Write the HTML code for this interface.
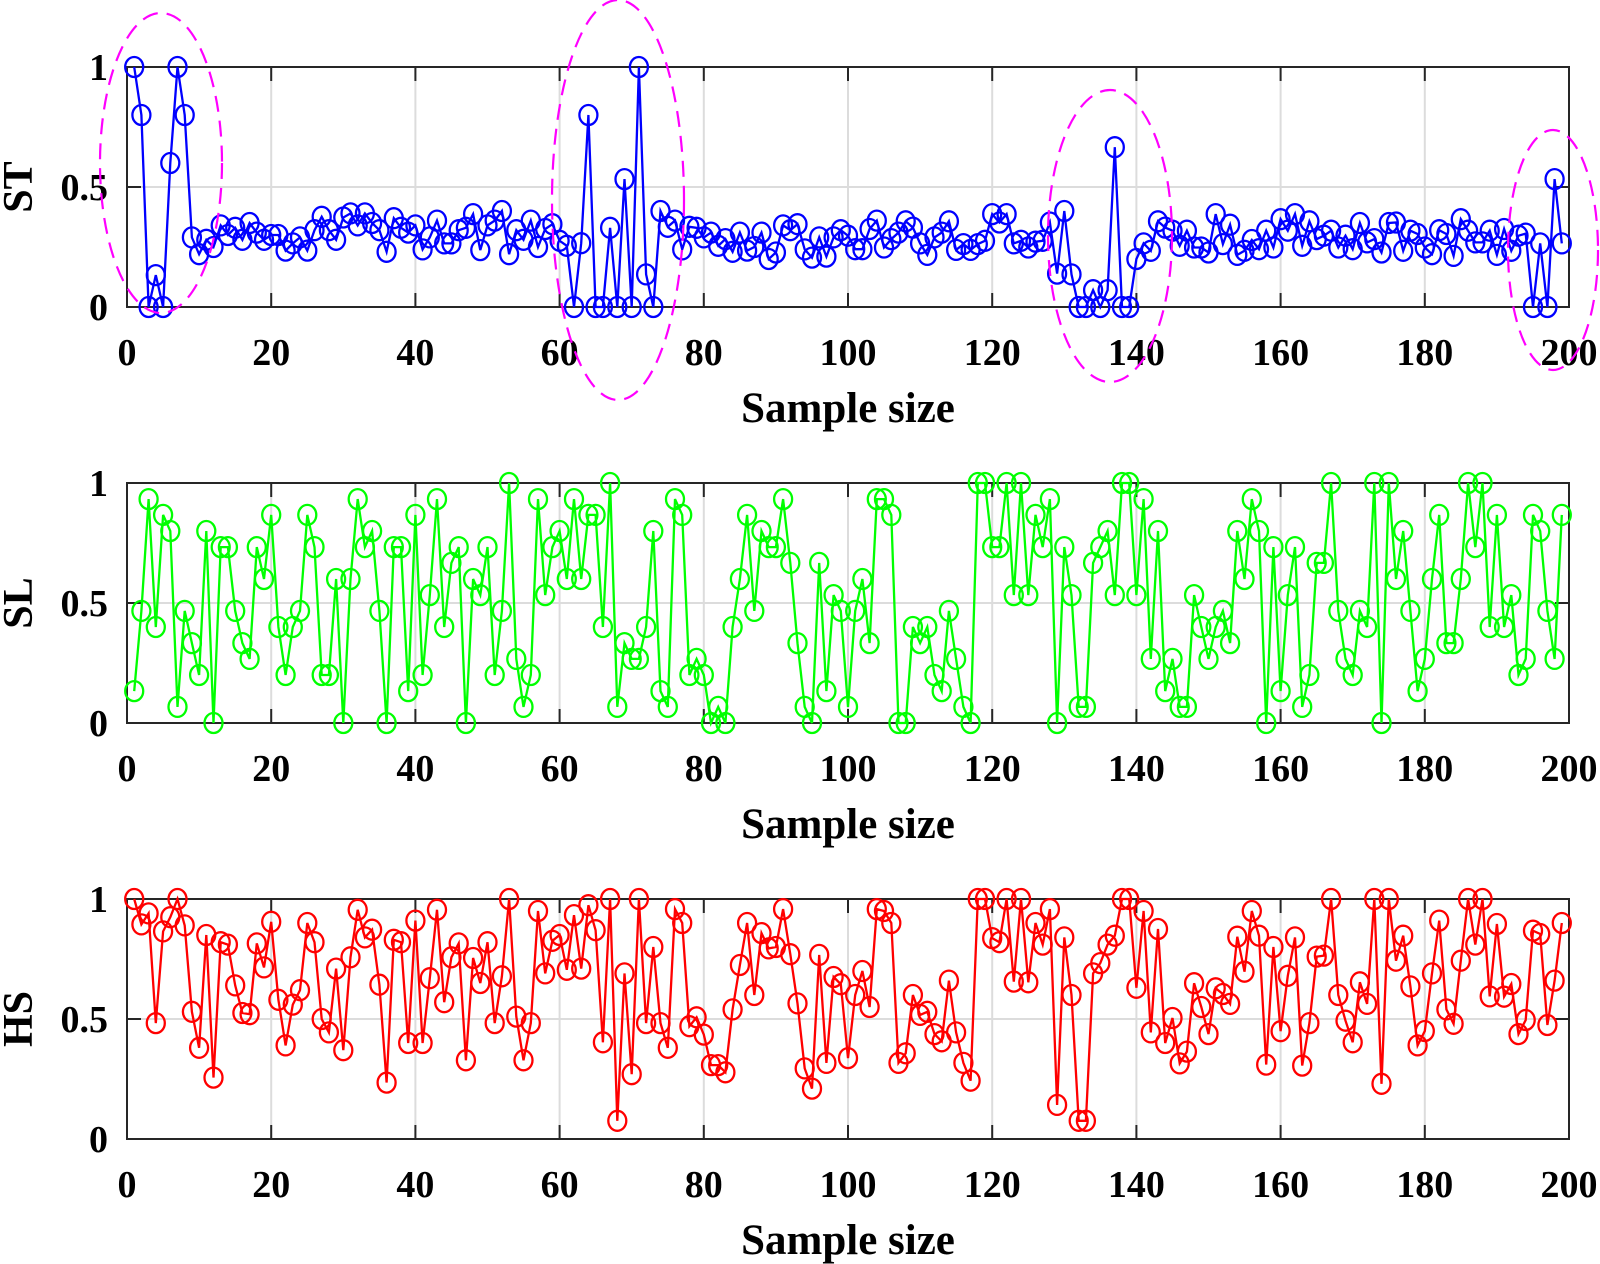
<!DOCTYPE html>
<html><head><meta charset="utf-8">
<style>
html,body{margin:0;padding:0;background:#fff;}
svg{display:block;}
text{font-family:"Liberation Serif",serif;font-weight:bold;fill:#000;}
</style></head>
<body>
<svg id="s" width="1600" height="1264" xmlns="http://www.w3.org/2000/svg"></svg>
<script>
var ST=[1,0.8,0,0.133,0,0.6,1,0.8,0.29,0.22,0.28,0.25,0.34,0.3,0.33,0.28,0.35,0.31,0.28,0.3,0.3,0.235,0.265,0.29,0.235,0.32,0.376,0.32,0.28,0.373,0.39,0.34,0.39,0.35,0.32,0.23,0.37,0.33,0.31,0.34,0.24,0.29,0.36,0.265,0.265,0.32,0.33,0.387,0.237,0.34,0.36,0.4,0.22,0.32,0.28,0.36,0.25,0.325,0.345,0.276,0.255,0,0.266,0.8,0,0,0.33,0,0.533,0,1,0.136,0,0.4,0.334,0.36,0.24,0.334,0.33,0.29,0.31,0.255,0.283,0.23,0.31,0.235,0.25,0.31,0.2,0.227,0.34,0.32,0.345,0.24,0.206,0.29,0.21,0.29,0.32,
0.297,0.241,0.241,0.325,0.36,0.248,0.283,0.31,0.357,0.331,0.265,0.217,0.29,0.31,0.357,0.238,0.262,0.238,0.262,0.276,0.387,0.352,0.387,0.265,0.276,0.248,0.272,0.276,0.352,0.139,0.4,0.136,0,0,0.07,0,0.07,0.666,0,0,0.2,0.265,0.234,0.357,0.331,0.318,0.255,0.318,0.248,0.248,0.227,0.387,0.262,0.343,0.217,0.234,0.279,0.241,0.318,0.248,0.366,0.318,0.387,0.255,0.357,0.283,0.297,0.318,0.248,0.297,0.241,0.35,0.269,0.283,0.227,0.35,0.352,0.234,0.318,0.304,0.248,0.22,0.32,0.304,0.213,0.366,0.318,0.269,0.269,0.318,0.217,0.325,0.234,0.297,0.306,0,0.265,0,0.533,0.265];
var SL=[0.133,0.467,0.933,0.4,0.867,0.8,0.067,0.467,0.333,0.2,0.8,0,0.733,0.733,0.467,0.333,0.267,0.733,0.6,0.867,0.4,0.2,0.4,0.467,0.867,0.733,0.2,0.2,0.6,0,0.6,0.933,0.733,0.8,0.467,0,0.733,0.733,0.133,0.867,0.2,0.533,0.933,0.4,0.667,0.733,0,0.6,0.533,0.733,0.2,0.467,1,0.267,0.067,0.2,0.933,0.533,0.733,0.8,0.6,0.933,0.6,0.867,0.867,0.4,1,0.067,0.333,0.267,0.267,0.4,0.8,0.133,0.067,0.933,0.867,0.2,0.267,0.2,0,0.067,0,0.4,0.6,0.867,0.467,0.8,0.733,0.733,0.933,0.667,0.333,0.067,0,0.667,0.133,0.533,0.467,
0.067,0.467,0.6,0.333,0.933,0.933,0.867,0,0,0.4,0.333,0.4,0.2,0.133,0.467,0.267,0.067,0,1,1,0.733,0.733,1,0.533,1,0.533,0.867,0.733,0.933,0,0.733,0.533,0.067,0.067,0.667,0.733,0.8,0.533,1,1,0.533,0.933,0.267,0.8,0.133,0.267,0.067,0.067,0.533,0.4,0.267,0.4,0.467,0.333,0.8,0.6,0.933,0.8,0,0.733,0.133,0.533,0.733,0.067,0.2,0.667,0.667,1,0.467,0.267,0.2,0.467,0.4,1,0,1,0.6,0.8,0.467,0.133,0.267,0.6,0.867,0.333,0.333,0.6,1,0.733,1,0.4,0.867,0.4,0.533,0.2,0.267,0.867,0.8,0.467,0.267,0.867];
var HS=[1,0.894,0.94,0.483,0.865,0.924,1,0.89,0.53,0.38,0.85,0.256,0.82,0.81,0.64,0.525,0.52,0.815,0.715,0.905,0.58,0.39,0.56,0.62,0.9,0.82,0.5,0.444,0.71,0.37,0.757,0.955,0.84,0.872,0.643,0.235,0.83,0.82,0.4,0.91,0.4,0.67,0.955,0.57,0.757,0.815,0.328,0.754,0.65,0.82,0.483,0.678,1,0.51,0.328,0.483,0.95,0.69,0.826,0.85,0.705,0.933,0.71,0.974,0.87,0.403,1,0.076,0.69,0.27,1,0.483,0.8,0.483,0.38,0.958,0.9,0.47,0.507,0.435,0.308,0.308,0.278,0.54,0.725,0.9,0.6,0.858,0.794,0.8,0.958,0.77,0.565,0.294,0.21,0.767,0.317,0.675,0.645,
0.337,0.6,0.7,0.55,0.958,0.95,0.9,0.317,0.357,0.6,0.517,0.53,0.437,0.407,0.66,0.444,0.317,0.243,1,1,0.837,0.82,1,0.656,1,0.653,0.9,0.81,0.958,0.142,0.84,0.6,0.076,0.076,0.69,0.733,0.81,0.847,1,1,0.63,0.95,0.444,0.875,0.4,0.504,0.315,0.364,0.649,0.55,0.437,0.628,0.604,0.563,0.843,0.697,0.95,0.847,0.31,0.8,0.449,0.68,0.84,0.306,0.483,0.76,0.764,1,0.6,0.493,0.403,0.653,0.563,1,0.23,1,0.743,0.847,0.636,0.39,0.45,0.69,0.91,0.54,0.48,0.743,1,0.81,1,0.594,0.896,0.593,0.646,0.437,0.496,0.868,0.854,0.475,0.66,0.9];
var X0=127,X1=1569,W=X1-X0;
function sx(v){return X0+v*W/200;}
var out='';
var plots=[{d:ST,top:67,c:'#0000ff',lab:'ST'},{d:SL,top:483,c:'#00ff00',lab:'SL'},{d:HS,top:899,c:'#ff0000',lab:'HS'}];
plots.forEach(function(p){
  var T=p.top,B=T+240;
  function sy(v){return B-v*240;}
  for(var k=20;k<200;k+=20){out+='<line x1="'+sx(k)+'" y1="'+T+'" x2="'+sx(k)+'" y2="'+B+'" stroke="#dcdcdc" stroke-width="2"/>';}
  out+='<line x1="'+X0+'" y1="'+sy(0.5)+'" x2="'+X1+'" y2="'+sy(0.5)+'" stroke="#dcdcdc" stroke-width="2"/>';
  for(var k=0;k<=200;k+=20){out+='<line x1="'+sx(k)+'" y1="'+T+'" x2="'+sx(k)+'" y2="'+(T+14)+'" stroke="#262626" stroke-width="2"/>';
    out+='<line x1="'+sx(k)+'" y1="'+B+'" x2="'+sx(k)+'" y2="'+(B-14)+'" stroke="#262626" stroke-width="2"/>';
    out+='<text x="'+sx(k)+'" y="'+(B+58)+'" font-size="38" text-anchor="middle">'+k+'</text>';}
  [0,0.5,1].forEach(function(v){
    out+='<line x1="'+X0+'" y1="'+sy(v)+'" x2="'+(X0+14)+'" y2="'+sy(v)+'" stroke="#262626" stroke-width="2"/>';
    out+='<line x1="'+X1+'" y1="'+sy(v)+'" x2="'+(X1-14)+'" y2="'+sy(v)+'" stroke="#262626" stroke-width="2"/>';
    out+='<text x="108" y="'+(sy(v)+13)+'" font-size="38" text-anchor="end">'+v+'</text>';});
  out+='<rect x="'+X0+'" y="'+T+'" width="'+W+'" height="240" fill="none" stroke="#262626" stroke-width="2"/>';
  var pts=p.d.map(function(v,i){return sx(i+1).toFixed(1)+','+sy(v).toFixed(1);});
  out+='<polyline points="'+pts.join(' ')+'" fill="none" stroke="'+p.c+'" stroke-width="2.3"/>';
  p.d.forEach(function(v,i){out+='<ellipse cx="'+sx(i+1).toFixed(1)+'" cy="'+sy(v).toFixed(1)+'" rx="9" ry="10" fill="none" stroke="'+p.c+'" stroke-width="2.3"/>';});
  out+='<text x="'+((X0+X1)/2)+'" y="'+(B+115)+'" font-size="43" text-anchor="middle">Sample size</text>';
  out+='<text transform="translate(32,'+(T+120)+') rotate(-90)" font-size="42" text-anchor="middle">'+p.lab+'</text>';
});
[[161,163,61,150],[618,200,66,200],[1110,236,62,146],[1553,250,45,120]].forEach(function(e){
  out+='<ellipse cx="'+e[0]+'" cy="'+e[1]+'" rx="'+e[2]+'" ry="'+e[3]+'" fill="none" stroke="#ff00ff" stroke-width="2.2" stroke-dasharray="16,9"/>';});
document.getElementById('s').innerHTML=out;
</script>
</body></html>
